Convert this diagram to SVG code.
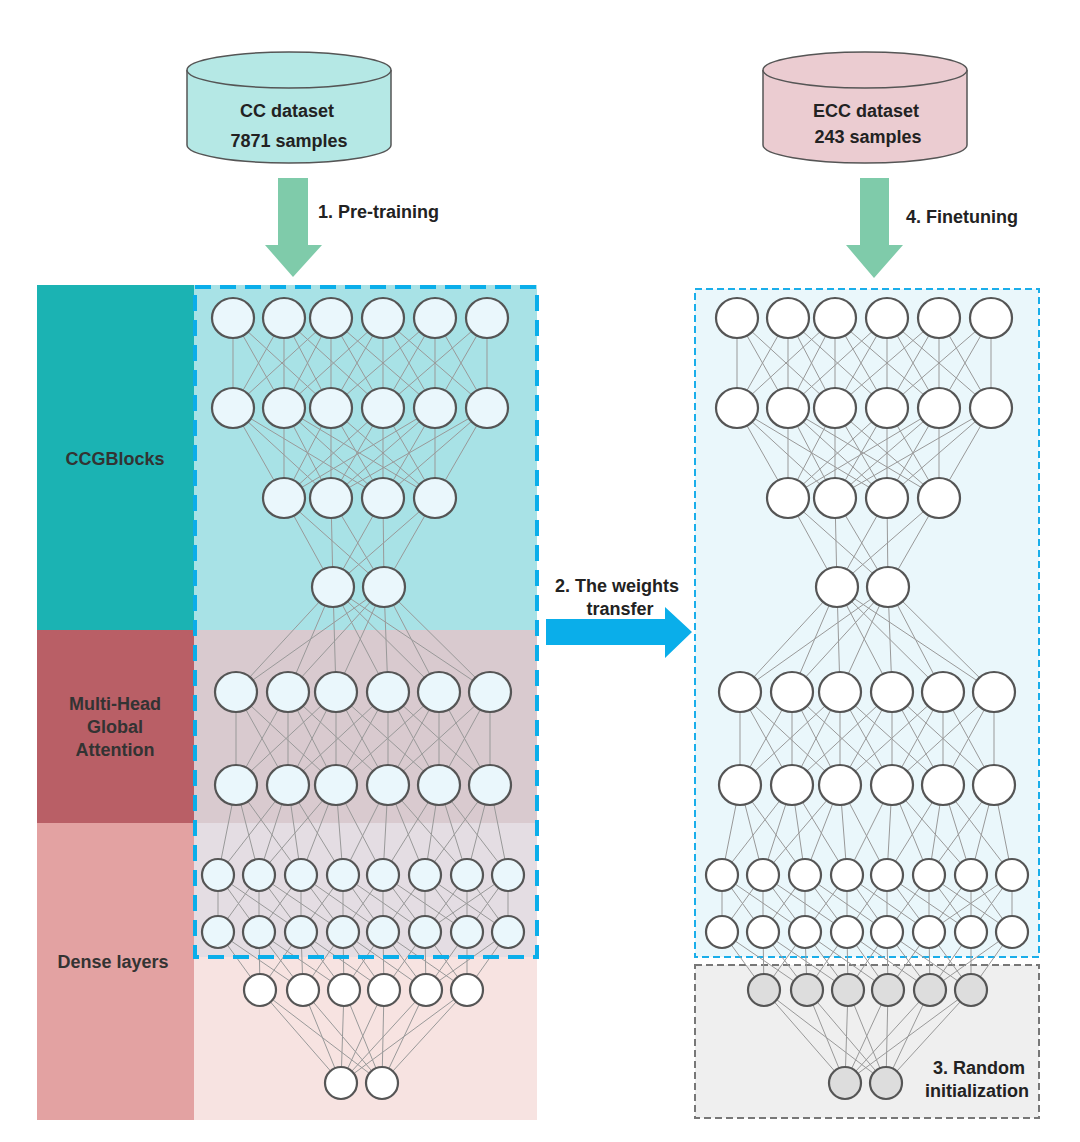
<svg xmlns="http://www.w3.org/2000/svg" width="1080" height="1142" viewBox="0 0 1080 1142">
<style>
text{font-family:"Liberation Sans",Arial,sans-serif;font-weight:bold;fill:#222;font-size:18px}
.lbl{fill:#333;font-size:18px}
</style>
<defs>
<path id="edges" d="M233,318L233,408M233,318L284,408M233,318L331,408M284,318L233,408M284,318L284,408M284,318L331,408M284,318L383,408M331,318L233,408M331,318L284,408M331,318L331,408M331,318L383,408M331,318L435,408M383,318L284,408M383,318L331,408M383,318L383,408M383,318L435,408M383,318L487,408M435,318L331,408M435,318L383,408M435,318L435,408M435,318L487,408M487,318L383,408M487,318L435,408M487,318L487,408
M233,408L284,498M233,408L331,498M233,408L383,498M284,408L284,498M284,408L331,498M284,408L383,498M284,408L435,498M331,408L284,498M331,408L331,498M331,408L383,498M331,408L435,498M383,408L284,498M383,408L331,498M383,408L383,498M383,408L435,498M435,408L284,498M435,408L331,498M435,408L383,498M435,408L435,498M487,408L331,498M487,408L383,498M487,408L435,498
M284,498L333,587M284,498L384,587M331,498L333,587M331,498L384,587M383,498L333,587M383,498L384,587M435,498L333,587M435,498L384,587
M333,587L236,692M333,587L288,692M333,587L336,692M333,587L388,692M333,587L439,692M333,587L490,692M384,587L236,692M384,587L288,692M384,587L336,692M384,587L388,692M384,587L439,692M384,587L490,692
M236,692L236,785M236,692L288,785M236,692L336,785M288,692L236,785M288,692L288,785M288,692L336,785M288,692L388,785M336,692L236,785M336,692L288,785M336,692L336,785M336,692L388,785M336,692L439,785M388,692L288,785M388,692L336,785M388,692L388,785M388,692L439,785M388,692L490,785M439,692L336,785M439,692L388,785M439,692L439,785M439,692L490,785M490,692L388,785M490,692L439,785M490,692L490,785
M236,785L218,875M236,785L259,875M236,785L301,875M288,785L218,875M288,785L259,875M288,785L301,875M288,785L343,875M336,785L259,875M336,785L301,875M336,785L343,875M336,785L383,875M388,785L343,875M388,785L383,875M388,785L425,875M388,785L467,875M439,785L383,875M439,785L425,875M439,785L467,875M439,785L508,875M490,785L425,875M490,785L467,875M490,785L508,875
M218,875L218,932M218,875L259,932M218,875L301,932M259,875L218,932M259,875L259,932M259,875L301,932M259,875L343,932M301,875L259,932M301,875L301,932M301,875L343,932M301,875L383,932M343,875L301,932M343,875L343,932M343,875L383,932M343,875L425,932M383,875L343,932M383,875L383,932M383,875L425,932M383,875L467,932M425,875L383,932M425,875L425,932M425,875L467,932M425,875L508,932M467,875L425,932M467,875L467,932M467,875L508,932M508,875L467,932M508,875L508,932M508,875L425,932
M218,932L260,990M218,932L303,990M259,932L260,990M259,932L303,990M259,932L344,990M301,932L260,990M301,932L303,990M301,932L344,990M301,932L384,990M343,932L303,990M343,932L344,990M343,932L384,990M343,932L426,990M383,932L344,990M383,932L384,990M383,932L426,990M383,932L467,990M425,932L384,990M425,932L426,990M425,932L467,990M467,932L426,990M467,932L467,990M508,932L467,990M508,932L426,990
M260,990L341,1083M260,990L382,1083M303,990L341,1083M303,990L382,1083M344,990L341,1083M344,990L382,1083M384,990L341,1083M384,990L382,1083M426,990L341,1083M426,990L382,1083M467,990L341,1083M467,990L382,1083" stroke="#999" stroke-width="1" fill="none"/>
<g id="rowsA" stroke="#555" stroke-width="2.2">
<ellipse cx="233" cy="318" rx="21" ry="20"/><ellipse cx="284" cy="318" rx="21" ry="20"/><ellipse cx="331" cy="318" rx="21" ry="20"/><ellipse cx="383" cy="318" rx="21" ry="20"/><ellipse cx="435" cy="318" rx="21" ry="20"/><ellipse cx="487" cy="318" rx="21" ry="20"/>
<ellipse cx="233" cy="408" rx="21" ry="20"/><ellipse cx="284" cy="408" rx="21" ry="20"/><ellipse cx="331" cy="408" rx="21" ry="20"/><ellipse cx="383" cy="408" rx="21" ry="20"/><ellipse cx="435" cy="408" rx="21" ry="20"/><ellipse cx="487" cy="408" rx="21" ry="20"/>
<ellipse cx="284" cy="498" rx="21" ry="20"/><ellipse cx="331" cy="498" rx="21" ry="20"/><ellipse cx="383" cy="498" rx="21" ry="20"/><ellipse cx="435" cy="498" rx="21" ry="20"/>
<ellipse cx="333" cy="587" rx="21" ry="20"/><ellipse cx="384" cy="587" rx="21" ry="20"/>
<ellipse cx="236" cy="692" rx="21" ry="20"/><ellipse cx="288" cy="692" rx="21" ry="20"/><ellipse cx="336" cy="692" rx="21" ry="20"/><ellipse cx="388" cy="692" rx="21" ry="20"/><ellipse cx="439" cy="692" rx="21" ry="20"/><ellipse cx="490" cy="692" rx="21" ry="20"/>
<ellipse cx="236" cy="785" rx="21" ry="20"/><ellipse cx="288" cy="785" rx="21" ry="20"/><ellipse cx="336" cy="785" rx="21" ry="20"/><ellipse cx="388" cy="785" rx="21" ry="20"/><ellipse cx="439" cy="785" rx="21" ry="20"/><ellipse cx="490" cy="785" rx="21" ry="20"/>
<circle cx="218" cy="875" r="16"/><circle cx="259" cy="875" r="16"/><circle cx="301" cy="875" r="16"/><circle cx="343" cy="875" r="16"/><circle cx="383" cy="875" r="16"/><circle cx="425" cy="875" r="16"/><circle cx="467" cy="875" r="16"/><circle cx="508" cy="875" r="16"/>
<circle cx="218" cy="932" r="16"/><circle cx="259" cy="932" r="16"/><circle cx="301" cy="932" r="16"/><circle cx="343" cy="932" r="16"/><circle cx="383" cy="932" r="16"/><circle cx="425" cy="932" r="16"/><circle cx="467" cy="932" r="16"/><circle cx="508" cy="932" r="16"/>
</g>
<g id="rowsB" stroke="#555" stroke-width="2.2">
<circle cx="260" cy="990" r="16"/><circle cx="303" cy="990" r="16"/><circle cx="344" cy="990" r="16"/><circle cx="384" cy="990" r="16"/><circle cx="426" cy="990" r="16"/><circle cx="467" cy="990" r="16"/>
<circle cx="341" cy="1083" r="16"/><circle cx="382" cy="1083" r="16"/>
</g>
</defs>
<rect width="1080" height="1142" fill="#fff"/>
<g id="bands">
<rect x="37" y="285" width="157" height="345" fill="#1BB3B3"/>
<rect x="37" y="630" width="157" height="193" fill="#B95F66"/>
<rect x="37" y="823" width="157" height="297" fill="#E3A2A2"/>
<rect x="194" y="285" width="343" height="345" fill="#A8E2E6"/>
<rect x="194" y="630" width="343" height="193" fill="#D9CACF"/>
<rect x="194" y="823" width="343" height="134" fill="#E4DDE3"/>
<rect x="194" y="957" width="343" height="163" fill="#F7E3E1"/>
<text x="115" y="465" text-anchor="middle" class="lbl">CCGBlocks</text>
<text x="115" y="710" text-anchor="middle" class="lbl">Multi-Head</text>
<text x="115" y="733" text-anchor="middle" class="lbl">Global</text>
<text x="115" y="756" text-anchor="middle" class="lbl">Attention</text>
<text x="113" y="968" text-anchor="middle" class="lbl">Dense layers</text>
<rect x="695" y="289" width="344" height="668" fill="#EAF7FB" stroke="#1AAEEA" stroke-width="2" stroke-dasharray="7,4"/>
<rect x="695" y="965" width="344" height="153" fill="#EFEFEF" stroke="#777" stroke-width="2" stroke-dasharray="7,4"/>
</g>
<g id="ds1">
<path d="M187,70 V145 A102,18 0 0 0 391,145 V70" fill="#B5E8E5" stroke="#555" stroke-width="1.5"/>
<ellipse cx="289" cy="70" rx="102" ry="18" fill="#B5E8E5" stroke="#555" stroke-width="1.5"/>
<text x="287" y="117" text-anchor="middle">CC dataset</text>
<text x="289" y="147" text-anchor="middle">7871 samples</text>
</g>
<g id="ds2">
<path d="M763,70 V145 A102,18 0 0 0 967,145 V70" fill="#EBCCD1" stroke="#555" stroke-width="1.5"/>
<ellipse cx="865" cy="70" rx="102" ry="18" fill="#EBCCD1" stroke="#555" stroke-width="1.5"/>
<text x="866" y="117" text-anchor="middle">ECC dataset</text>
<text x="868" y="143" text-anchor="middle">243 samples</text>
</g>
<g id="arrows">
<polygon points="278,178 308,178 308,245 322,245 293,277 265,245 278,245" fill="#7FCBAA"/>
<polygon points="860,178 889,178 889,245 903,245 874,278 846,245 860,245" fill="#7FCBAA"/>
<polygon points="546,619 665,619 665,607 692,632 665,658 665,645 546,645" fill="#0AAEEA"/>
<text x="318" y="218">1. Pre-training</text>
<text x="906" y="223">4. Finetuning</text>
<text x="617" y="592" text-anchor="middle">2. The weights</text>
<text x="620" y="615" text-anchor="middle">transfer</text>
<text x="1025" y="1074" text-anchor="end">3. Random</text>
<text x="1029" y="1097" text-anchor="end">initialization</text>
</g>
<g id="connectors">
<use href="#edges"/>
<use href="#edges" transform="translate(504,0)"/>
</g>
<g id="left-net">
<use href="#rowsA" fill="#EAF7FC"/>
<use href="#rowsB" fill="#FFFFFF"/>
</g>
<g id="right-net" transform="translate(504,0)">
<use href="#rowsA" fill="#FFFFFF"/>
<use href="#rowsB" fill="#DDDDDD"/>
</g>
<rect x="195" y="287" width="342" height="670" fill="none" stroke="#0AAEEA" stroke-width="4" stroke-dasharray="16,9"/>
</svg>
